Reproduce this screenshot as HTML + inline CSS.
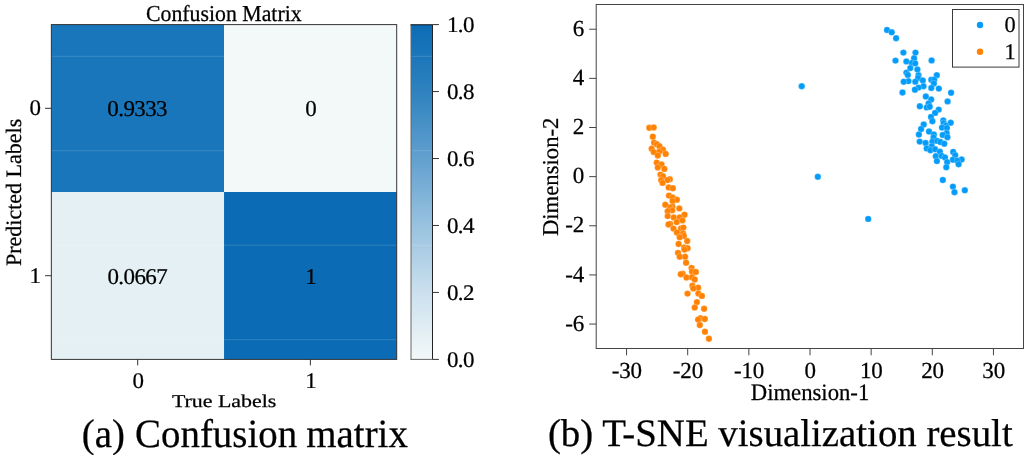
<!DOCTYPE html>
<html><head><meta charset="utf-8"><title>Confusion matrix and T-SNE</title>
<style>html,body{margin:0;padding:0;background:#fff}svg{display:block}text{font-family:"Liberation Serif","Times New Roman",serif;fill:#000;stroke:#000;stroke-width:0.25px;text-rendering:geometricPrecision}</style></head><body>
<svg width="1025" height="455" viewBox="0 0 1025 455">
<defs><linearGradient id="cb" x1="0" y1="0" x2="0" y2="1"><stop offset="0" stop-color="#0B6CB5"/><stop offset="0.2" stop-color="#2E82BF"/><stop offset="0.4" stop-color="#62A0CF"/><stop offset="0.6" stop-color="#98C2DF"/><stop offset="0.8" stop-color="#CBE0EE"/><stop offset="1" stop-color="#F3F8F8"/></linearGradient></defs>
<rect width="1025" height="455" fill="#fff"/>
<rect x="51.35" y="24.6" width="172.68" height="167.40" fill="#1976BA"/>
<rect x="224.03" y="24.6" width="172.67" height="167.40" fill="#F3F8F8"/>
<rect x="51.35" y="192.00" width="172.68" height="167.40" fill="#E5F0F5"/>
<rect x="224.03" y="192.00" width="172.67" height="167.40" fill="#0B6CB5"/>
<rect x="411" y="24.6" width="21.5" height="334.80" fill="url(#cb)"/>
<line x1="51.35" y1="56.3" x2="396.7" y2="56.3" stroke="#fff" stroke-opacity="0.15"/>
<line x1="411" y1="56.3" x2="432.5" y2="56.3" stroke="#fff" stroke-opacity="0.15"/>
<line x1="51.35" y1="150.7" x2="396.7" y2="150.7" stroke="#fff" stroke-opacity="0.15"/>
<line x1="411" y1="150.7" x2="432.5" y2="150.7" stroke="#fff" stroke-opacity="0.15"/>
<line x1="51.35" y1="245.2" x2="396.7" y2="245.2" stroke="#fff" stroke-opacity="0.15"/>
<line x1="411" y1="245.2" x2="432.5" y2="245.2" stroke="#fff" stroke-opacity="0.15"/>
<line x1="51.35" y1="339.7" x2="396.7" y2="339.7" stroke="#fff" stroke-opacity="0.15"/>
<line x1="411" y1="339.7" x2="432.5" y2="339.7" stroke="#fff" stroke-opacity="0.15"/>
<rect x="51.35" y="24.6" width="345.35" height="334.80" fill="none" stroke="#333"/>
<line x1="411" y1="24.6" x2="411" y2="359.4" stroke="#666"/>
<line x1="432.5" y1="24.6" x2="432.5" y2="359.4" stroke="#222"/>
<line x1="410.5" y1="24.8" x2="432.5" y2="24.8" stroke="#111"/>
<line x1="410.5" y1="359.4" x2="432.5" y2="359.4" stroke="#666"/>
<line x1="432.5" y1="24.60" x2="438.9" y2="24.60" stroke="#333"/>
<text transform="translate(473.9,32.1) scale(1.0,0.97)" font-size="23.0" text-anchor="end" letter-spacing="-0.6">1.0</text>
<line x1="432.5" y1="91.56" x2="438.9" y2="91.56" stroke="#333"/>
<text transform="translate(473.9,99.06) scale(1.0,0.97)" font-size="23.0" text-anchor="end" letter-spacing="-0.6">0.8</text>
<line x1="432.5" y1="158.52" x2="438.9" y2="158.52" stroke="#333"/>
<text transform="translate(473.9,166.02) scale(1.0,0.97)" font-size="23.0" text-anchor="end" letter-spacing="-0.6">0.6</text>
<line x1="432.5" y1="225.48" x2="438.9" y2="225.48" stroke="#333"/>
<text transform="translate(473.9,232.98) scale(1.0,0.97)" font-size="23.0" text-anchor="end" letter-spacing="-0.6">0.4</text>
<line x1="432.5" y1="292.44" x2="438.9" y2="292.44" stroke="#333"/>
<text transform="translate(473.9,299.94) scale(1.0,0.97)" font-size="23.0" text-anchor="end" letter-spacing="-0.6">0.2</text>
<line x1="432.5" y1="359.40" x2="438.9" y2="359.40" stroke="#333"/>
<text transform="translate(473.9,366.9) scale(1.0,0.97)" font-size="23.0" text-anchor="end" letter-spacing="-0.6">0.0</text>
<line x1="45.050000000000004" y1="108.30" x2="51.35" y2="108.30" stroke="#333"/>
<text transform="translate(40.3,115.4) scale(1.0,0.97)" font-size="23.0" text-anchor="end" letter-spacing="-0.6">0</text>
<line x1="45.050000000000004" y1="275.70" x2="51.35" y2="275.70" stroke="#333"/>
<text transform="translate(40.3,282.8) scale(1.0,0.97)" font-size="23.0" text-anchor="end" letter-spacing="-0.6">1</text>
<line x1="137.69" y1="359.4" x2="137.69" y2="365.4" stroke="#333"/>
<text transform="translate(137.99,388) scale(1.0,0.97)" font-size="23.0" text-anchor="middle" letter-spacing="-0.6">0</text>
<line x1="310.36" y1="359.4" x2="310.36" y2="365.4" stroke="#333"/>
<text transform="translate(310.66,388) scale(1.0,0.97)" font-size="23.0" text-anchor="middle" letter-spacing="-0.6">1</text>
<text transform="translate(137.2,115.8) scale(1.0,0.985)" font-size="23.0" text-anchor="middle" letter-spacing="-0.6" stroke-width="0.1">0.9333</text>
<text transform="translate(310.8,115.8) scale(1.0,0.985)" font-size="23.0" text-anchor="middle" letter-spacing="-0.6" stroke-width="0.1">0</text>
<text transform="translate(137.3,283.6) scale(1.0,0.985)" font-size="23.0" text-anchor="middle" letter-spacing="-0.6" stroke-width="0.1">0.0667</text>
<text transform="translate(310.8,283.6) scale(1.0,0.985)" font-size="23.0" text-anchor="middle" letter-spacing="-0.6" stroke-width="0.1">1</text>
<text transform="translate(223.8,20.5) scale(1.0,1.045)" font-size="21.8" text-anchor="middle">Confusion Matrix</text>
<text transform="translate(21.1,192.4) rotate(-90)" font-size="22.0" text-anchor="middle">Predicted Labels</text>
<text transform="translate(224.1,407.1) scale(1.21,1.0)" font-size="18.1" text-anchor="middle">True Labels</text>
<text transform="translate(81.8,446.5) scale(1,1.03)" font-size="38.9" stroke-width="0.45">(a) <tspan dx="0.4">Confusion </tspan><tspan dx="-0.55">matrix</tspan></text>
<rect x="596.2" y="4.5" width="427.30" height="344.00" fill="#fff" stroke="#444"/>
<line x1="626.55" y1="348.5" x2="626.55" y2="355.3" stroke="#444"/>
<text transform="translate(626.75,378.0)" font-size="23.0" text-anchor="middle" letter-spacing="-0.15">-30</text>
<line x1="687.70" y1="348.5" x2="687.70" y2="355.3" stroke="#444"/>
<text transform="translate(687.9,378.0)" font-size="23.0" text-anchor="middle" letter-spacing="-0.15">-20</text>
<line x1="748.85" y1="348.5" x2="748.85" y2="355.3" stroke="#444"/>
<text transform="translate(749.05,378.0)" font-size="23.0" text-anchor="middle" letter-spacing="-0.15">-10</text>
<line x1="810.00" y1="348.5" x2="810.00" y2="355.3" stroke="#444"/>
<text transform="translate(810.2,378.0)" font-size="23.0" text-anchor="middle" letter-spacing="-0.15">0</text>
<line x1="871.15" y1="348.5" x2="871.15" y2="355.3" stroke="#444"/>
<text transform="translate(871.35,378.0)" font-size="23.0" text-anchor="middle" letter-spacing="-0.15">10</text>
<line x1="932.30" y1="348.5" x2="932.30" y2="355.3" stroke="#444"/>
<text transform="translate(932.5,378.0)" font-size="23.0" text-anchor="middle" letter-spacing="-0.15">20</text>
<line x1="993.45" y1="348.5" x2="993.45" y2="355.3" stroke="#444"/>
<text transform="translate(993.65,378.0)" font-size="23.0" text-anchor="middle" letter-spacing="-0.15">30</text>
<line x1="589.2" y1="29.23" x2="596.2" y2="29.23" stroke="#444"/>
<text transform="translate(584.0,35.93)" font-size="23.0" text-anchor="end" letter-spacing="-0.15">6</text>
<line x1="589.2" y1="78.37" x2="596.2" y2="78.37" stroke="#444"/>
<text transform="translate(584.0,85.07)" font-size="23.0" text-anchor="end" letter-spacing="-0.15">4</text>
<line x1="589.2" y1="127.51" x2="596.2" y2="127.51" stroke="#444"/>
<text transform="translate(584.0,134.21)" font-size="23.0" text-anchor="end" letter-spacing="-0.15">2</text>
<line x1="589.2" y1="176.65" x2="596.2" y2="176.65" stroke="#444"/>
<text transform="translate(584.0,183.35)" font-size="23.0" text-anchor="end" letter-spacing="-0.15">0</text>
<line x1="589.2" y1="225.79" x2="596.2" y2="225.79" stroke="#444"/>
<text transform="translate(584.0,232.49)" font-size="23.0" text-anchor="end" letter-spacing="-0.15">-2</text>
<line x1="589.2" y1="274.93" x2="596.2" y2="274.93" stroke="#444"/>
<text transform="translate(584.0,281.63)" font-size="23.0" text-anchor="end" letter-spacing="-0.15">-4</text>
<line x1="589.2" y1="324.07" x2="596.2" y2="324.07" stroke="#444"/>
<text transform="translate(584.0,330.77)" font-size="23.0" text-anchor="end" letter-spacing="-0.15">-6</text>
<text transform="translate(810.0,400.4) scale(1.0,1.04)" font-size="22.7" text-anchor="middle">Dimension-1</text>
<text transform="translate(557.7,176.85) rotate(-90)" font-size="22.7" text-anchor="middle">Dimension-2</text>
<g fill="#FF8203" stroke="#fff" stroke-opacity="0.55" stroke-width="0.45">
<circle cx="649.3" cy="127.8" r="3.2"/>
<circle cx="653.7" cy="127.5" r="3.2"/>
<circle cx="652.8" cy="136.7" r="3.2"/>
<circle cx="654.1" cy="142.8" r="3.2"/>
<circle cx="656.9" cy="144.3" r="3.2"/>
<circle cx="659.5" cy="146.2" r="3.2"/>
<circle cx="651.7" cy="148.7" r="3.2"/>
<circle cx="663.0" cy="149.8" r="3.2"/>
<circle cx="653.7" cy="152.1" r="3.2"/>
<circle cx="659.2" cy="151.7" r="3.2"/>
<circle cx="665.7" cy="153.9" r="3.2"/>
<circle cx="657.8" cy="155.5" r="3.2"/>
<circle cx="656.7" cy="162.6" r="3.2"/>
<circle cx="661.5" cy="164.4" r="3.2"/>
<circle cx="657.8" cy="167.5" r="3.2"/>
<circle cx="664.4" cy="168.9" r="3.2"/>
<circle cx="660.5" cy="174.6" r="3.2"/>
<circle cx="663.0" cy="176.3" r="3.2"/>
<circle cx="669.8" cy="179.2" r="3.2"/>
<circle cx="667.4" cy="180.1" r="3.2"/>
<circle cx="661.2" cy="180.1" r="3.2"/>
<circle cx="662.6" cy="182.9" r="3.2"/>
<circle cx="668.7" cy="187.4" r="3.2"/>
<circle cx="672.8" cy="188.2" r="3.2"/>
<circle cx="669.0" cy="195.6" r="3.2"/>
<circle cx="672.6" cy="197.5" r="3.2"/>
<circle cx="676.9" cy="199.7" r="3.2"/>
<circle cx="672.6" cy="201.0" r="3.2"/>
<circle cx="665.3" cy="204.7" r="3.2"/>
<circle cx="672.4" cy="206.5" r="3.2"/>
<circle cx="679.3" cy="208.4" r="3.2"/>
<circle cx="670.1" cy="207.5" r="3.2"/>
<circle cx="672.2" cy="210.2" r="3.2"/>
<circle cx="667.7" cy="211.2" r="3.2"/>
<circle cx="684.5" cy="214.7" r="3.2"/>
<circle cx="667.7" cy="216.1" r="3.2"/>
<circle cx="673.8" cy="217.4" r="3.2"/>
<circle cx="679.7" cy="217.4" r="3.2"/>
<circle cx="682.4" cy="220.4" r="3.2"/>
<circle cx="676.7" cy="222.1" r="3.2"/>
<circle cx="670.1" cy="223.9" r="3.2"/>
<circle cx="668.5" cy="224.5" r="3.2"/>
<circle cx="673.5" cy="228.6" r="3.2"/>
<circle cx="681.0" cy="228.4" r="3.2"/>
<circle cx="683.4" cy="227.6" r="3.2"/>
<circle cx="676.9" cy="232.5" r="3.2"/>
<circle cx="683.1" cy="233.4" r="3.2"/>
<circle cx="683.8" cy="235.9" r="3.2"/>
<circle cx="679.7" cy="237.3" r="3.2"/>
<circle cx="687.2" cy="241.0" r="3.2"/>
<circle cx="678.6" cy="244.0" r="3.2"/>
<circle cx="684.2" cy="247.5" r="3.2"/>
<circle cx="687.6" cy="248.2" r="3.2"/>
<circle cx="684.5" cy="249.6" r="3.2"/>
<circle cx="678.0" cy="252.9" r="3.2"/>
<circle cx="679.7" cy="256.7" r="3.2"/>
<circle cx="685.1" cy="256.7" r="3.2"/>
<circle cx="686.1" cy="262.8" r="3.2"/>
<circle cx="691.6" cy="267.9" r="3.2"/>
<circle cx="692.0" cy="271.4" r="3.2"/>
<circle cx="695.8" cy="272.0" r="3.2"/>
<circle cx="682.7" cy="273.8" r="3.2"/>
<circle cx="680.8" cy="274.2" r="3.2"/>
<circle cx="686.5" cy="277.5" r="3.2"/>
<circle cx="692.0" cy="277.2" r="3.2"/>
<circle cx="694.7" cy="279.5" r="3.2"/>
<circle cx="692.4" cy="285.7" r="3.2"/>
<circle cx="698.1" cy="287.7" r="3.2"/>
<circle cx="693.3" cy="288.4" r="3.2"/>
<circle cx="687.5" cy="293.6" r="3.2"/>
<circle cx="698.4" cy="293.6" r="3.2"/>
<circle cx="701.9" cy="295.9" r="3.2"/>
<circle cx="696.9" cy="302.1" r="3.2"/>
<circle cx="694.7" cy="307.5" r="3.2"/>
<circle cx="704.1" cy="308.8" r="3.2"/>
<circle cx="700.4" cy="318.2" r="3.2"/>
<circle cx="698.1" cy="319.6" r="3.2"/>
<circle cx="704.8" cy="319.0" r="3.2"/>
<circle cx="699.8" cy="325.0" r="3.2"/>
<circle cx="704.9" cy="331.7" r="3.2"/>
<circle cx="708.9" cy="338.7" r="3.2"/>
</g>
<g fill="#049CF9" stroke="#fff" stroke-opacity="0.55" stroke-width="0.45">
<circle cx="887.0" cy="30.0" r="3.2"/>
<circle cx="891.7" cy="32.3" r="3.2"/>
<circle cx="896.1" cy="38.2" r="3.2"/>
<circle cx="903.4" cy="52.6" r="3.2"/>
<circle cx="915.5" cy="52.6" r="3.2"/>
<circle cx="914.1" cy="58.3" r="3.2"/>
<circle cx="895.5" cy="60.6" r="3.2"/>
<circle cx="906.4" cy="61.4" r="3.2"/>
<circle cx="931.6" cy="60.4" r="3.2"/>
<circle cx="911.9" cy="63.0" r="3.2"/>
<circle cx="915.2" cy="63.4" r="3.2"/>
<circle cx="910.3" cy="68.1" r="3.2"/>
<circle cx="917.4" cy="69.5" r="3.2"/>
<circle cx="906.4" cy="72.6" r="3.2"/>
<circle cx="907.8" cy="74.9" r="3.2"/>
<circle cx="918.5" cy="75.3" r="3.2"/>
<circle cx="936.8" cy="75.2" r="3.2"/>
<circle cx="918.1" cy="78.1" r="3.2"/>
<circle cx="931.3" cy="79.7" r="3.2"/>
<circle cx="934.2" cy="79.7" r="3.2"/>
<circle cx="922.8" cy="80.4" r="3.2"/>
<circle cx="908.5" cy="81.1" r="3.2"/>
<circle cx="903.7" cy="81.7" r="3.2"/>
<circle cx="915.3" cy="81.7" r="3.2"/>
<circle cx="933.8" cy="83.5" r="3.2"/>
<circle cx="923.5" cy="86.2" r="3.2"/>
<circle cx="918.5" cy="87.6" r="3.2"/>
<circle cx="914.9" cy="89.7" r="3.2"/>
<circle cx="931.3" cy="88.0" r="3.2"/>
<circle cx="938.8" cy="88.6" r="3.2"/>
<circle cx="902.5" cy="92.5" r="3.2"/>
<circle cx="951.1" cy="92.7" r="3.2"/>
<circle cx="925.8" cy="96.5" r="3.2"/>
<circle cx="931.2" cy="99.4" r="3.2"/>
<circle cx="947.6" cy="101.4" r="3.2"/>
<circle cx="928.6" cy="103.5" r="3.2"/>
<circle cx="919.8" cy="106.3" r="3.2"/>
<circle cx="926.7" cy="107.4" r="3.2"/>
<circle cx="929.7" cy="106.7" r="3.2"/>
<circle cx="938.7" cy="109.6" r="3.2"/>
<circle cx="935.1" cy="112.9" r="3.2"/>
<circle cx="931.0" cy="117.0" r="3.2"/>
<circle cx="932.4" cy="121.2" r="3.2"/>
<circle cx="943.3" cy="120.4" r="3.2"/>
<circle cx="950.7" cy="122.7" r="3.2"/>
<circle cx="943.6" cy="123.1" r="3.2"/>
<circle cx="923.7" cy="124.5" r="3.2"/>
<circle cx="945.8" cy="125.5" r="3.2"/>
<circle cx="942.0" cy="127.6" r="3.2"/>
<circle cx="946.9" cy="127.9" r="3.2"/>
<circle cx="921.1" cy="129.0" r="3.2"/>
<circle cx="929.0" cy="131.5" r="3.2"/>
<circle cx="918.9" cy="134.5" r="3.2"/>
<circle cx="933.8" cy="134.5" r="3.2"/>
<circle cx="946.7" cy="133.1" r="3.2"/>
<circle cx="942.7" cy="135.0" r="3.2"/>
<circle cx="933.5" cy="137.5" r="3.2"/>
<circle cx="947.4" cy="137.2" r="3.2"/>
<circle cx="919.7" cy="141.6" r="3.2"/>
<circle cx="925.6" cy="142.9" r="3.2"/>
<circle cx="932.4" cy="141.6" r="3.2"/>
<circle cx="937.2" cy="140.9" r="3.2"/>
<circle cx="940.3" cy="142.0" r="3.2"/>
<circle cx="944.3" cy="143.7" r="3.2"/>
<circle cx="931.7" cy="146.3" r="3.2"/>
<circle cx="926.7" cy="148.4" r="3.2"/>
<circle cx="930.4" cy="150.2" r="3.2"/>
<circle cx="935.1" cy="149.3" r="3.2"/>
<circle cx="939.9" cy="151.8" r="3.2"/>
<circle cx="953.2" cy="151.9" r="3.2"/>
<circle cx="955.2" cy="155.2" r="3.2"/>
<circle cx="935.8" cy="156.2" r="3.2"/>
<circle cx="941.7" cy="155.9" r="3.2"/>
<circle cx="945.0" cy="157.5" r="3.2"/>
<circle cx="952.9" cy="159.7" r="3.2"/>
<circle cx="961.6" cy="159.5" r="3.2"/>
<circle cx="957.3" cy="160.7" r="3.2"/>
<circle cx="936.9" cy="161.1" r="3.2"/>
<circle cx="947.2" cy="162.1" r="3.2"/>
<circle cx="958.6" cy="164.2" r="3.2"/>
<circle cx="946.3" cy="167.2" r="3.2"/>
<circle cx="942.8" cy="180.0" r="3.2"/>
<circle cx="952.9" cy="186.6" r="3.2"/>
<circle cx="964.8" cy="190.3" r="3.2"/>
<circle cx="954.5" cy="192.2" r="3.2"/>
<circle cx="868.2" cy="218.9" r="3.2"/>
<circle cx="801.7" cy="86.2" r="3.2"/>
<circle cx="817.8" cy="176.8" r="3.2"/>
</g>
<rect x="952.5" y="9.5" width="66.5" height="57.6" fill="#fff" stroke="#3a3a3a"/>
<circle cx="980" cy="25" r="3.2" fill="#049CF9"/>
<circle cx="980" cy="51.8" r="3.2" fill="#FF8203"/>
<text transform="translate(1010.1,32.3)" font-size="22.4" text-anchor="middle">0</text>
<text transform="translate(1010.1,59.4)" font-size="22.4" text-anchor="middle">1</text>
<text transform="translate(547.9,446.3)" font-size="38.85" stroke-width="0.45">(b) T-SNE visualization result</text>
</svg></body></html>
